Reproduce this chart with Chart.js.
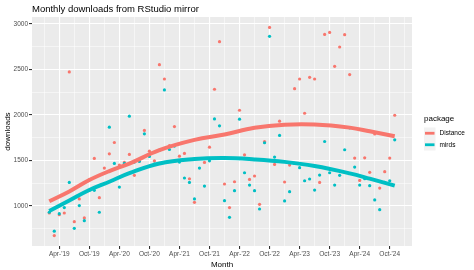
<!DOCTYPE html>
<html>
<head>
<meta charset="utf-8">
<script src="https://cdn.jsdelivr.net/npm/chart.js@4.4.1/dist/chart.umd.min.js"></script>
<style>
html,body{margin:0;padding:0;background:#ffffff;}
#wrap{width:474px;height:270px;position:relative;}
</style>
</head>
<body>
<div id="wrap"><canvas id="c" width="474" height="270"></canvas></div>
<script>
// ---------- data ----------
const chartTitle = "Monthly downloads from RStudio mirror";
const xTitle = "Month";
const yTitle = "downloads";
const legendTitle = "package";
const seriesNames = ["Distance", "mirds"];

const months = [
  "2019-02","2019-03","2019-04","2019-05","2019-06","2019-07","2019-08","2019-09","2019-10","2019-11","2019-12",
  "2020-01","2020-02","2020-03","2020-04","2020-05","2020-06","2020-07","2020-08","2020-09","2020-10","2020-11","2020-12",
  "2021-01","2021-02","2021-03","2021-04","2021-05","2021-06","2021-07","2021-08","2021-09","2021-10","2021-11","2021-12",
  "2022-01","2022-02","2022-03","2022-04","2022-05","2022-06","2022-07","2022-08","2022-09","2022-10","2022-11","2022-12",
  "2023-01","2023-02","2023-03","2023-04","2023-05","2023-06","2023-07","2023-08","2023-09","2023-10","2023-11","2023-12",
  "2024-01","2024-02","2024-03","2024-04","2024-05","2024-06","2024-07","2024-08","2024-09","2024-10","2024-11"
];

const distance = [
  923, 675, 905, 923, 2471, 828, 1077, 869, 1290, 1522, 1091,
  1416, 1573, 1697, 1450, 1478, 1566, 1336, 1490, 1829, 1602, 1496, 2551,
  2394, 1664, 1872, 1547, 1577, 1299, 1040, 1740, 1478, 1646, 2281, 2803,
  1241, 982, 1266, 2051, 1562, 1292, 1329, 1018, 1708, 2960, 1456, 1931,
  1263, 1449, 2288, 2394, 2018, 2412, 2394, 1259, 2883, 2905, 2533, 2745,
  2880, 2442, 1526, 1281, 1529, 1369, 1790, 1197, 1376, 1526, 1996
];

const mirds = [
  931, 723, 916, 982, 1259, 755, 1004, 839, 1172, 1172, 931,
  1248, 1865, 1467, 1208, 1467, 1986, 1482, 1490, 1792, 1544, 1460, 1613,
  2274, 1620, 1657, 1482, 1307, 1259, 1077, 1416, 1219, 1496, 1956, 1880,
  1058, 876, 1168, 1953, 1365, 1230, 1168, 967, 1694, 2862, 1537, 1774,
  1055, 1157, 1467, 1420, 1277, 1296, 1175, 1339, 1708, 1365, 1230, 1336,
  1617, 1858, 1427, 1230, 1299, 1223, 1066, 960, 1260, 1277, 1726
];

// smoothed trend lines
const smoothMonths = ["2019-02","2019-06","2019-10","2020-02","2020-06","2020-12","2021-07","2022-01","2022-07","2023-01","2023-07","2024-02","2024-06","2024-11"];
const distanceSmooth = [1052, 1160, 1285, 1383, 1465, 1613, 1725, 1785, 1858, 1892, 1894, 1860, 1820, 1766];
const mirdsSmooth    = [945, 1060, 1175, 1266, 1360, 1467, 1515, 1526, 1511, 1484, 1438, 1358, 1300, 1223];

const xTickMonths = ["2019-04","2019-10","2020-04","2020-10","2021-04","2021-10","2022-04","2022-10","2023-04","2023-10","2024-04","2024-10"];
const xTickLabels = ["Apr-'19","Oct-'19","Apr-'20","Oct-'20","Apr-'21","Oct-'21","Apr-'22","Oct-'22","Apr-'23","Oct-'23","Apr-'24","Oct-'24"];
const yTicks = [1000, 1500, 2000, 2500, 3000];

// ---------- helpers ----------
const COLORS = ["#F8766D", "#00BFC4"];
const FONT = '"Liberation Sans", Arial, Helvetica, sans-serif';
function mIndex(s){ const p = s.split("-"); return (parseInt(p[0],10)-2019)*12 + (parseInt(p[1],10)-1); }
function pts(ms, vals){ return ms.map((m,i)=>({x:mIndex(m), y:vals[i]})); }

const xMajor = xTickMonths.map(mIndex);
const xStep = xMajor[1]-xMajor[0];
const xAll = [xMajor[0]-xStep/2];
xMajor.forEach(v=>{ xAll.push(v); xAll.push(v+xStep/2); });
const yStep = yTicks[1]-yTicks[0];
const yAll = [yTicks[0]-yStep/2];
yTicks.forEach(v=>{ yAll.push(v); yAll.push(v+yStep/2); });

const xs = months.map(mIndex);
const xRange = Math.max(...xs)-Math.min(...xs);
const allY = distance.concat(mirds);
const yMinD = Math.min(...allY), yMaxD = Math.max(...allY);
const yRange = yMaxD - yMinD;

function isMajorX(v){ return xMajor.includes(v); }
function isMajorY(v){ return yTicks.includes(v); }

const decor = {
  id: 'decor',
  beforeDraw(chart){
    const {ctx, chartArea:a} = chart;
    ctx.save();
    ctx.fillStyle = '#EBEBEB';
    ctx.fillRect(a.left, a.top, a.right-a.left, a.bottom-a.top);
    ctx.restore();
  },
  afterDraw(chart){
    const {ctx, chartArea:a} = chart;
    ctx.save();
    // title
    ctx.fillStyle = '#000000';
    ctx.font = '9.5px ' + FONT;
    ctx.textAlign = 'left';
    ctx.textBaseline = 'alphabetic';
    ctx.fillText(chartTitle, a.left, 11.5);
    // legend
    const lx = a.right + 12;
    ctx.font = '8px ' + FONT;
    ctx.textBaseline = 'middle';
    ctx.fillText(legendTitle, lx, 119);
    const key = 11.5;
    seriesNames.forEach((name,i)=>{
      const ky = 127.5 + i*key;
      ctx.fillStyle = '#F2F2F2';
      ctx.fillRect(lx, ky, key, key);
      ctx.strokeStyle = COLORS[i];
      ctx.lineWidth = 2.8;
      ctx.beginPath();
      ctx.moveTo(lx+1, ky+key/2);
      ctx.lineTo(lx+key-1, ky+key/2);
      ctx.stroke();
      ctx.fillStyle = '#000000';
      ctx.font = '6.5px ' + FONT;
      ctx.fillText(name, lx+key+4, ky+key/2);
    });
    ctx.restore();
  }
};

const gridCommon = {
  color: '#FFFFFF',
  drawTicks: true,
  tickLength: 3
};

new Chart(document.getElementById('c'), {
  type: 'scatter',
  data: {
    datasets: [
      { label: seriesNames[0]+' trend', data: pts(smoothMonths, distanceSmooth), showLine: true, borderColor: COLORS[0], borderWidth: 4, pointRadius: 0, tension: 0.4, borderCapStyle: 'butt', fill: false },
      { label: seriesNames[1]+' trend', data: pts(smoothMonths, mirdsSmooth), showLine: true, borderColor: COLORS[1], borderWidth: 4, pointRadius: 0, tension: 0.4, borderCapStyle: 'butt', fill: false },
      { label: seriesNames[1], data: pts(months, mirds), backgroundColor: COLORS[1], borderWidth: 0, pointRadius: 1.6 },
      { label: seriesNames[0], data: pts(months, distance), backgroundColor: COLORS[0], borderWidth: 0, pointRadius: 1.6 }
    ]
  },
  options: {
    responsive: false,
    animation: false,
    devicePixelRatio: 1,
    layout: { padding: { top: 17, right: 62, left: 0, bottom: 0 } },
    plugins: { legend: { display: false }, tooltip: { enabled: false }, title: { display: false } },
    events: [],
    scales: {
      x: {
        type: 'linear',
        min: Math.min(...xs) - 0.05*xRange,
        max: Math.max(...xs) + 0.05*xRange,
        afterBuildTicks(scale){ scale.ticks = xAll.map(v=>({value:v})); },
        afterFit(scale){ scale.height = 24; },
        border: { display: false },
        grid: Object.assign({}, gridCommon, {
          lineWidth: c => (c.tick && isMajorX(c.tick.value)) ? 1.1 : 0.5,
          tickColor: c => (c.tick && isMajorX(c.tick.value)) ? '#333333' : 'rgba(0,0,0,0)'
        }),
        ticks: {
          autoSkip: false, maxRotation: 0, minRotation: 0, padding: 1,
          color: '#4D4D4D', font: { family: FONT, size: 6.5 },
          callback: v => { const i = xMajor.indexOf(v); return i >= 0 ? xTickLabels[i] : ''; }
        },
        title: { display: true, text: xTitle, color: '#000000', font: { family: FONT, size: 8 }, padding: { top: 3.5, bottom: 0 } }
      },
      y: {
        type: 'linear',
        min: yMinD - 0.05*yRange,
        max: yMaxD + 0.05*yRange,
        afterBuildTicks(scale){ scale.ticks = yAll.map(v=>({value:v})); },
        afterFit(scale){ scale.width = 32; },
        border: { display: false },
        grid: Object.assign({}, gridCommon, {
          lineWidth: c => (c.tick && isMajorY(c.tick.value)) ? 1.1 : 0.5,
          tickColor: c => (c.tick && isMajorY(c.tick.value)) ? '#333333' : 'rgba(0,0,0,0)'
        }),
        ticks: {
          autoSkip: false, padding: 1,
          color: '#4D4D4D', font: { family: FONT, size: 6.5 },
          callback: v => isMajorY(v) ? String(v) : ''
        },
        title: { display: true, text: yTitle, color: '#000000', font: { family: FONT, size: 8 }, padding: { top: 3, bottom: 0 } }
      }
    }
  },
  plugins: [decor]
});
</script>
</body>
</html>
